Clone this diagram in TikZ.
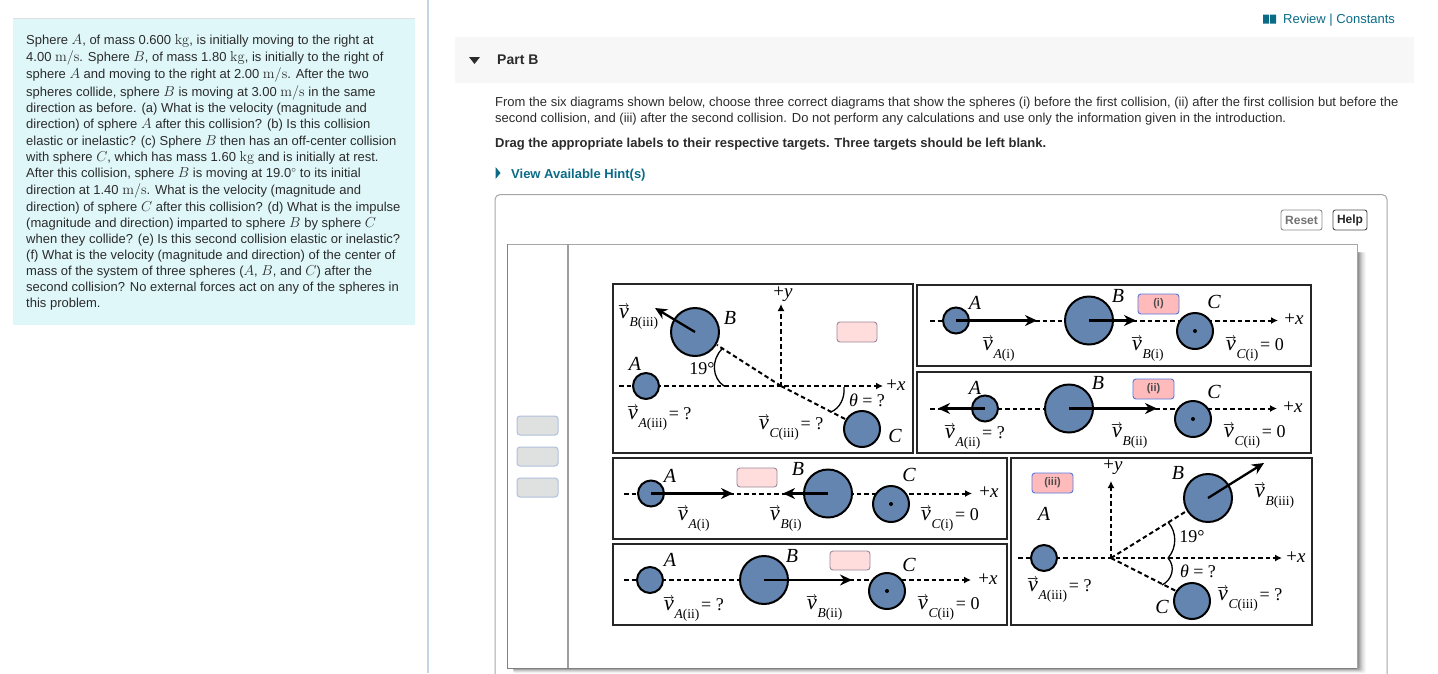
\documentclass[tikz,border=0pt]{standalone}
\usepackage[no-math]{fontspec}
\setmainfont{Liberation Sans}
\newfontfamily\tms{Liberation Serif}
\usetikzlibrary{arrows.meta}
\definecolor{sph}{HTML}{6485B0}
\definecolor{teal}{HTML}{E0F7FA}
\definecolor{linkc}{HTML}{0B6B87}
\definecolor{txt}{HTML}{2B2B2B}
\definecolor{rule}{HTML}{C5D3E6}
\newcommand\lfont{\fontsize{20}{20}\selectfont\tms}
\newcommand\vfont{\fontsize{22}{22}\selectfont\tms}
\newcommand\subf{\fontsize{13.5}{14}\selectfont\tms}
\newcommand\eqf{\fontsize{18}{18}\selectfont\tms}
\newcommand\mm[1]{{\fontsize{14.5}{15}\selectfont$#1$}}
\newcommand\vv[3]{{\boldmath$\overrightarrow{\hbox{\vfont\itshape v}}$}\raisebox{-8pt}{\subf\itshape #1\upshape #2}\,{\eqf #3}}
\newcommand\sphere[4]{\node[spherestyle,minimum size=#4pt] (#1) at (#2,#3) {};}
\newcommand\dotsphere[4]{\node[spherestyle,minimum size=#4pt] (#1) at (#2,#3) {}; \fill (#1.center) circle (2pt);}
\newcommand\lab[4]{\node[labstyle] (#1) at (#2,#3) {\lfont\itshape #4};}
\newcommand\plus[4]{\node[labstyle] (#1) at (#2,#3) {\fontsize{19}{19}\selectfont\tms +\itshape #4};}
\newcommand\vlab[6]{\node[anchor=base west,inner sep=0pt] (#1) at (#2,#3) {\vv{#4}{#5}{#6}};}
\newcommand\para[3]{\node[bodytext] (#1) at (26,#2) {#3};}
\tikzset{
  spherestyle/.style={circle,draw=black,fill=sph,line width=2pt,inner sep=0pt},
  labstyle/.style={inner sep=0pt},
  panel/.style={draw=black!85,line width=1.6pt,fill=white},
  dashaxis/.style={line width=2pt,dash pattern=on 4.5pt off 3pt,-{Latex[length=7pt,width=7pt]}},
  dashplain/.style={line width=2pt,dash pattern=on 4.5pt off 3pt},
  vel/.style={line width=2.3pt,-{Stealth[length=12pt,width=11pt]}},
  arcline/.style={line width=1.3pt},
  targetoff/.style={draw=tgb,line width=.9pt,fill=tgf,rounded corners=3pt},
  targeton/.style={draw=tgc,line width=.9pt,fill=tgg,rounded corners=3pt,font=\fontsize{11}{11}\selectfont\bfseries,text=black!70,inner sep=0pt},
  drag/.style={draw=dragb,line width=1pt,fill=dragf,rounded corners=3pt},
  bodytext/.style={anchor=base west,inner sep=0pt,font=\fontsize{13}{15}\selectfont,text=txt},
  uitext/.style={anchor=base west,inner sep=0pt,font=\fontsize{13}{15}\selectfont,text=txt},
  btn/.style={draw,rounded corners=2.5pt,line width=.9pt,fill=white},
}
\definecolor{tgb}{HTML}{9A8A9A}
\definecolor{tgf}{HTML}{FFDDDD}
\definecolor{tgc}{HTML}{5577DD}
\definecolor{tgg}{HTML}{FFBBBB}
\definecolor{dragb}{HTML}{B0C0DD}
\definecolor{dragf}{HTML}{DFE1E1}
\begin{document}
\begin{tikzpicture}[x=1pt,y=-1pt]
\useasboundingbox (0,0) rectangle (1438,673);
% left panel
\fill[teal] (13,18) rectangle (415,325);
\draw[black!12,line width=1pt] (13,18) -- (415,18);
\draw[rule,line width=1.2pt] (428,0) -- (428,673);
\para{t1}{44}{Sphere \mm{A}, of mass 0.600 \mm{\mathrm{kg}}, is initially moving to the right at}
\para{t2}{61}{4.00 \mm{\mathrm{m/s}}. Sphere \mm{B}, of mass 1.80 \mm{\mathrm{kg}}, is initially to the right of}
\para{t3}{78}{sphere \mm{A} and moving to the right at 2.00 \mm{\mathrm{m/s}}. After the two}
\para{t4}{96}{spheres collide, sphere \mm{B} is moving at 3.00 \mm{\mathrm{m/s}} in the same}
\para{t5}{112}{direction as before. (a) What is the velocity (magnitude and}
\para{t6}{128}{direction) of sphere \mm{A} after this collision? (b) Is this collision}
\para{t7}{145}{elastic or inelastic? (c) Sphere \mm{B} then has an off-center collision}
\para{t8}{161}{with sphere \mm{C}, which has mass 1.60 \mm{\mathrm{kg}} and is initially at rest.}
\para{t9}{177}{After this collision, sphere \mm{B} is moving at 19.0$^\circ$ to its initial}
\para{t10}{194}{direction at 1.40 \mm{\mathrm{m/s}}. What is the velocity (magnitude and}
\para{t11}{211}{direction) of sphere \mm{C} after this collision? (d) What is the impulse}
\para{t12}{227}{(magnitude and direction) imparted to sphere \mm{B} by sphere \mm{C}}
\para{t13}{243}{when they collide? (e) Is this second collision elastic or inelastic?}
\para{t14}{259}{(f) What is the velocity (magnitude and direction) of the center of}
\para{t15}{275}{mass of the system of three spheres (\mm{A}, \mm{B}, and \mm{C}) after the}
\para{t16}{291}{second collision? No external forces act on any of the spheres in}
\para{t17}{307}{this problem.}
% header
\fill[linkc] (1263,14.5) rectangle (1269,23.5) (1270,14.5) rectangle (1276,23.5);
\node[uitext,text=linkc] (review) at (1283,23.5) {Review | Constants};
\fill[black!3] (455,37) rectangle (1414,83);
\fill[txt] (469,57) -- (480,57) -- (474.5,64) -- cycle;
\node[uitext,font=\fontsize{14}{15}\selectfont\bfseries] (partb) at (497,64.5) {Part B};
\node[uitext] (p1) at (495,106) {From the six diagrams shown below, choose three correct diagrams that show the spheres (i) before the first collision, (ii) after the first collision but before the};
\node[uitext] (p2) at (495,122) {second collision, and (iii) after the second collision. Do not perform any calculations and use only the information given in the introduction.};
\node[uitext,font=\fontsize{13}{15}\selectfont\bfseries] (p3) at (495,147) {Drag the appropriate labels to their respective targets. Three targets should be left blank.};
\fill[linkc] (495.5,167) -- (500.5,173) -- (495.5,179) -- cycle;
\node[uitext,font=\fontsize{13}{15}\selectfont\bfseries,text=linkc] (hint) at (511,178) {View Available Hint(s)};
% outer card
\draw[black!35,line width=1pt,rounded corners=5pt] (495,680) -- (495,194.5) -- (1387,194.5) -- (1387,680);
\node[btn,draw=black!45,text=black!55,font=\fontsize{12}{12}\selectfont\bfseries,minimum width=41pt,minimum height=20pt,inner sep=0pt] (reset) at (1301.5,220) {Reset};
\node[btn,draw=black!70,text=black!85,font=\fontsize{12}{12}\selectfont\bfseries,minimum width=34pt,minimum height=20pt,inner sep=0pt] (help) at (1350,220) {Help};
% frame with shadow
\foreach \s/\g in {9/3,8/6,7/10,6/15,5/20,4/27,3/34,2/42,1/50}{
  \fill[black!\g,rounded corners=2pt] (513,252) rectangle (1357+\s,668+\s*0.6);
}
\draw[black!35,line width=1pt,fill=white] (1357,244) -- (507,244) -- (507,668.5) -- (1357,668.5) -- cycle;
\draw[black!50,line width=1pt] (507,244) -- (507,668.5) -- (1357,668.5);
\draw[black!38,line width=1.6pt] (568,244) -- (568,668);
\node[drag,minimum width=41pt,minimum height=19pt,inner sep=0pt] (d1) at (537.5,425.5) {};
\node[drag,minimum width=41pt,minimum height=19pt,inner sep=0pt] (d2) at (537.5,456.5) {};
\node[drag,minimum width=41pt,minimum height=19pt,inner sep=0pt] (d3) at (537.5,487.5) {};

% ---------- panel 1
\draw[panel] (613,284) rectangle (913,453);
\coordinate (s1) at (619,386); \coordinate (e1) at (883,386);
\coordinate (o1) at (781,386); \coordinate (y1) at (781,304);
\draw[dashaxis] (s1) -- (e1);
\draw[dashaxis] (o1) -- (y1);
\draw[dashplain] (o1) -- (717,345);
\draw[dashplain] (o1) -- (845,419);
\sphere{a1}{646}{386}{26}
\sphere{b1}{695}{332}{48}
\sphere{c1}{862}{429}{36}
\coordinate (t1v) at (655,308);
\draw[vel] (b1.center) -- (t1v);
\draw[arcline] (722,349) .. controls (711,360) and (712,378) .. (724,386);
\draw[arcline] (844,387) .. controls (845,398) and (840,408) .. (831,412);
\lab{la1}{635}{364}{A}
\lab{lb1}{730}{318}{B}
\lab{lc1}{895}{436}{C}
\plus{py1}{783}{294}{y}
\plus{px1}{896}{385}{x}
\node[labstyle] (d19a) at (702,369) {\fontsize{18}{18}\selectfont\tms 19°};
\node[labstyle] (tha) at (867,400) {\eqf\itshape θ\upshape\ = ?};
\node[targetoff,minimum width=40pt,minimum height=20pt,inner sep=0pt] (tg1) at (857,332) {};
\vlab{va1}{618}{318}{B}{(iii)}{}
\vlab{va2}{627}{419}{A}{(iii)}{= ?}
\vlab{va3}{758}{429}{C}{(iii)}{= ?}

% ---------- panel 2
\draw[panel] (917,285) rectangle (1311,366);
\coordinate (s2) at (930,320.5); \coordinate (e2) at (1278,320.5);
\draw[dashaxis] (s2) -- (e2);
\sphere{a2}{956}{320.5}{26}
\sphere{b2}{1089}{320.5}{48}
\dotsphere{c2}{1195}{331}{36}
\coordinate (t2a) at (1037,320.5); \coordinate (t2b) at (1136,320.5);
\draw[vel] (a2.center) -- (t2a);
\draw[vel] (b2.center) -- (t2b);
\lab{la2}{975}{303}{A}
\lab{lb2}{1118}{296}{B}
\lab{lc2}{1214}{302}{C}
\plus{px2}{1294}{319}{x}
\node[targeton,minimum width=41pt,minimum height=20pt] (tg2) at (1158.5,304) {(i)};
\vlab{vb1}{982}{350}{A}{(i)}{}
\vlab{vb2}{1131}{350}{B}{(i)}{}
\vlab{vb3}{1225}{350}{C}{(i)}{= 0}

% ---------- panel 3
\draw[panel] (917,372) rectangle (1311,453);
\coordinate (s3) at (930,408.5); \coordinate (e3) at (1277,408.5);
\draw[dashaxis] (s3) -- (e3);
\sphere{a3}{985}{408.5}{26}
\sphere{b3}{1069}{408.5}{48}
\dotsphere{c3}{1193}{419}{36}
\coordinate (t3a) at (938,408.5); \coordinate (t3b) at (1157,408.5);
\draw[vel] (a3.center) -- (t3a);
\draw[vel] (b3.center) -- (t3b);
\lab{la3}{975}{388}{A}
\lab{lb3}{1098}{383}{B}
\lab{lc3}{1214}{392}{C}
\plus{px3}{1293}{407}{x}
\node[targeton,minimum width=41pt,minimum height=20pt] (tg3) at (1153.5,389) {(ii)};
\vlab{vc1}{944}{438}{A}{(ii)}{= ?}
\vlab{vc2}{1111}{437}{B}{(ii)}{}
\vlab{vc3}{1223}{437}{C}{(ii)}{= 0}

% ---------- panel 4
\draw[panel] (613,458) rectangle (1007,539);
\coordinate (s4) at (624,493.5); \coordinate (e4) at (972,493.5);
\draw[dashaxis] (s4) -- (e4);
\sphere{a4}{651}{493.5}{26}
\sphere{b4}{828}{493.5}{48}
\dotsphere{c4}{891}{504}{36}
\coordinate (t4a) at (733,493.5); \coordinate (t4b) at (783,493.5);
\draw[vel] (a4.center) -- (t4a);
\draw[vel] (b4.center) -- (t4b);
\lab{la4}{670}{476}{A}
\lab{lb4}{798}{469}{B}
\lab{lc4}{909}{475}{C}
\plus{px4}{989}{492}{x}
\node[targetoff,minimum width=40pt,minimum height=19pt,inner sep=0pt] (tg4) at (757,477.5) {};
\vlab{vd1}{677}{520}{A}{(i)}{}
\vlab{vd2}{769}{520}{B}{(i)}{}
\vlab{vd3}{920}{520}{C}{(i)}{= 0}

% ---------- panel 5
\draw[panel] (613,544) rectangle (1007,625);
\coordinate (s5) at (624,580); \coordinate (e5) at (971,580);
\draw[dashaxis] (s5) -- (e5);
\sphere{a5}{650}{580}{26}
\sphere{b5}{764}{580}{48}
\dotsphere{c5}{887}{591}{36}
\coordinate (t5b) at (852,580);
\draw[vel] (b5.center) -- (t5b);
\lab{la5}{670}{560}{A}
\lab{lb5}{792}{556}{B}
\lab{lc5}{909}{565}{C}
\plus{px5}{988}{579}{x}
\node[targetoff,minimum width=40pt,minimum height=19pt,inner sep=0pt] (tg5) at (850,560.5) {};
\vlab{ve1}{663}{610}{A}{(ii)}{= ?}
\vlab{ve2}{806}{609}{B}{(ii)}{}
\vlab{ve3}{917}{609}{C}{(ii)}{= 0}

% ---------- panel 6
\draw[panel] (1011,458) rectangle (1312,625);
\coordinate (s6) at (1018,558); \coordinate (e6) at (1282,558);
\coordinate (o6) at (1111,558); \coordinate (y6) at (1111,481);
\draw[dashaxis] (s6) -- (e6);
\draw[dashaxis] (o6) -- (y6);
\draw[dashplain] (o6) -- (1185,512);
\draw[dashplain] (o6) -- (1176,591);
\sphere{a6}{1044}{558}{26}
\sphere{b6}{1208}{498}{48}
\sphere{c6}{1192}{601}{36}
\coordinate (t6b) at (1264,463);
\draw[vel] (b6.center) -- (t6b);
\draw[arcline] (1168,522) .. controls (1177,532) and (1177,548) .. (1168,558);
\draw[arcline] (1168,558) .. controls (1176,567) and (1172,580) .. (1162,585);
\lab{la6}{1044}{514}{A}
\lab{lb6}{1178}{473}{B}
\lab{lc6}{1162}{607}{C}
\plus{py6}{1113}{467}{y}
\plus{px6}{1296}{557}{x}
\node[labstyle] (d19b) at (1192,537) {\fontsize{18}{18}\selectfont\tms 19°};
\node[labstyle] (thb) at (1198,571) {\eqf\itshape θ\upshape\ = ?};
\node[targeton,minimum width=41pt,minimum height=20pt] (tg6) at (1052.5,483) {(iii)};
\vlab{vf1}{1027}{591}{A}{(iii)}{= ?}
\vlab{vf2}{1254}{497}{B}{(iii)}{}
\vlab{vf3}{1217}{600}{C}{(iii)}{= ?}
\end{tikzpicture}
\end{document}
